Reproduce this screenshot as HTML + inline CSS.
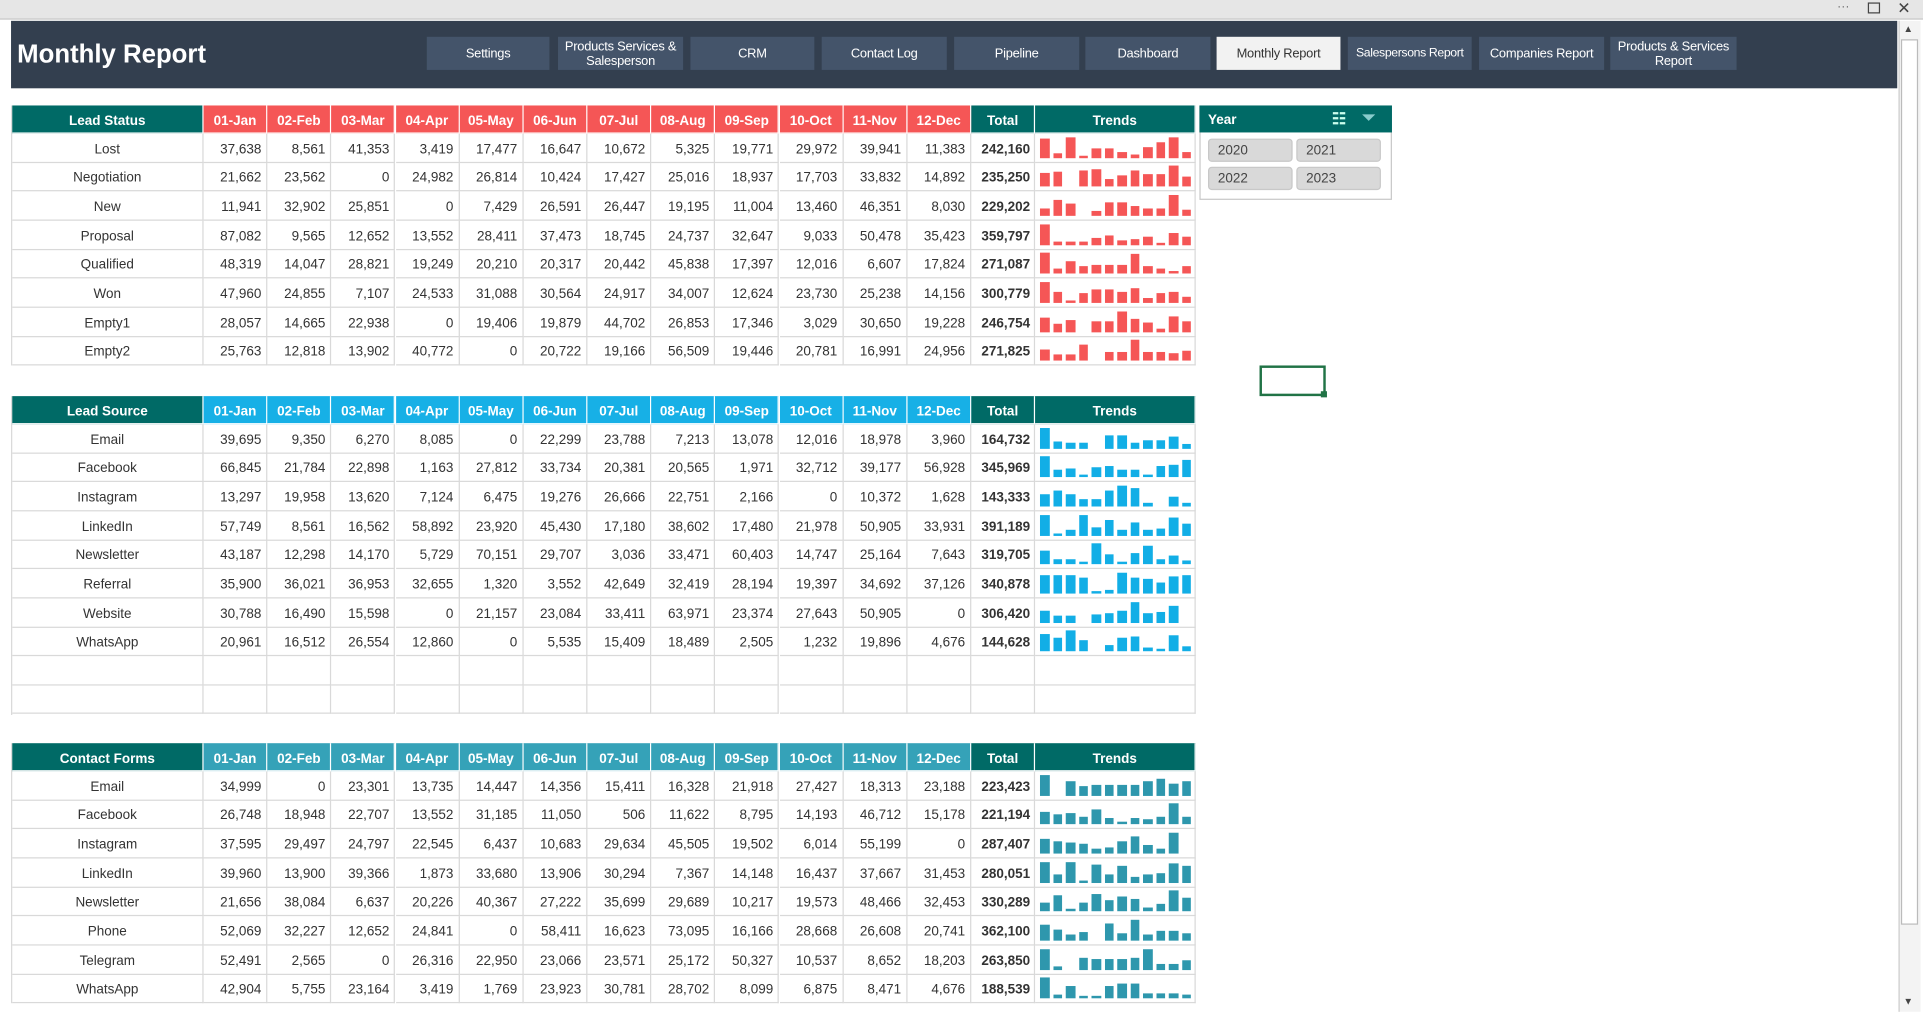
<!DOCTYPE html>
<html><head><meta charset="utf-8">
<style>
html,body{margin:0;padding:0;overflow:hidden;background:#fff;width:1923px;height:1012px}
#root{position:absolute;left:0;top:0;width:1568px;height:826px;transform:scale(1.22640);transform-origin:0 0;font-family:"Liberation Sans",sans-serif;background:#fff}
.abs{position:absolute;box-sizing:border-box}
.btn{position:absolute;top:30px;height:27px;background:#44546a;color:#fff;font-size:10.5px;display:flex;align-items:center;justify-content:center;text-align:center;line-height:12px;white-space:nowrap;letter-spacing:-0.2px}
.cell{position:absolute;box-sizing:border-box;font-size:11px;display:flex;align-items:center;border-right:1px solid #d9d9d9;border-bottom:1px solid #d9d9d9;color:#333;padding-top:3px}
.h{color:#fff;font-weight:bold;justify-content:center;border-color:#fff}
.yb{position:absolute;width:69px;height:19px;background:#d9d9d9;border:1px solid #c8c8c8;border-radius:3px;font-size:11px;color:#444;display:flex;align-items:center;padding-left:7px;box-sizing:border-box}
</style></head><body><div id="root">
<div class="abs" style="left:0;top:0;width:1568px;height:16px;background:#e6e6e6;border-bottom:1px solid #c8c8c8"></div>
<div class="abs" style="left:1498px;top:0;font-size:10px;color:#666">···</div>
<div class="abs" style="left:1523px;top:2px;width:10px;height:9px;border:1px solid #444"></div>
<div class="abs" style="left:1547px;top:-1px;font-size:13px;color:#444">✕</div>
<div class="abs" style="left:9px;top:17px;width:1538px;height:55px;background:#333f4f"></div>
<div class="abs" style="left:14px;top:33px;color:#fff;font-weight:bold;font-size:21px">Monthly Report</div>
<div class="btn" style="left:348px;width:100px">Settings</div>
<div class="btn" style="left:455px;width:102px">Products Services &amp;<br>Salesperson</div>
<div class="btn" style="left:563px;width:101px">CRM</div>
<div class="btn" style="left:670px;width:102px">Contact Log</div>
<div class="btn" style="left:778px;width:102px">Pipeline</div>
<div class="btn" style="left:885px;width:102px">Dashboard</div>
<div class="btn" style="left:992px;width:101px;background:#f2f2f2;color:#333">Monthly Report</div>
<div class="btn" style="left:1099px;width:101px;font-size:10px;letter-spacing:-0.3px">Salespersons Report</div>
<div class="btn" style="left:1206px;width:102px">Companies Report</div>
<div class="btn" style="left:1313px;width:103px">Products &amp; Services<br>Report</div>
<div class="abs" style="left:1548px;top:17px;width:18px;height:808px;background:#f3f3f3;border-left:1px solid #ccc"></div>
<div class="abs" style="left:1552px;top:19px;font-size:8px;color:#444">▲</div>
<div class="abs" style="left:1552px;top:812px;font-size:8px;color:#444">▼</div>
<div class="abs" style="left:1550px;top:32px;width:14px;height:722px;background:#fff;border:1px solid #bbb"></div>
<div class="abs" style="left:978px;top:86px;width:157px;height:77px;border:1px solid #c8c8c8;background:#fff"></div>
<div class="abs" style="left:978px;top:86px;width:157px;height:22px;background:#006a66;color:#fff;font-weight:bold;font-size:11px;padding:6px 7px">Year<span style="position:absolute;left:108px;top:3px;font-size:13px;color:#cfe">☷</span><span style="position:absolute;left:133px;top:2px;font-size:13px;color:#8cc">⏷</span></div>
<div class="yb" style="left:985px;top:113px">2020</div>
<div class="yb" style="left:1057px;top:113px">2021</div>
<div class="yb" style="left:985px;top:136px">2022</div>
<div class="yb" style="left:1057px;top:136px">2023</div>
<div class="abs" style="left:1027px;top:298px;width:54px;height:25px;border:2px solid #217346"></div>
<div class="abs" style="left:1077px;top:319px;width:5px;height:5px;background:#217346"></div>
<div id="t"></div>
</div>
<script>
const months=["01-Jan","02-Feb","03-Mar","04-Apr","05-May","06-Jun","07-Jul","08-Aug","09-Sep","10-Oct","11-Nov","12-Dec"];
const T=[
{top:86,title:"Lead Status",mc:"#f55656",sc:"#f55656",extra:0,rows:[
["Lost",[37638,8561,41353,3419,17477,16647,10672,5325,19771,29972,39941,11383],"242,160"],
["Negotiation",[21662,23562,0,24982,26814,10424,17427,25016,18937,17703,33832,14892],"235,250"],
["New",[11941,32902,25851,0,7429,26591,26447,19195,11004,13460,46351,8030],"229,202"],
["Proposal",[87082,9565,12652,13552,28411,37473,18745,24737,32647,9033,50478,35423],"359,797"],
["Qualified",[48319,14047,28821,19249,20210,20317,20442,45838,17397,12016,6607,17824],"271,087"],
["Won",[47960,24855,7107,24533,31088,30564,24917,34007,12624,23730,25238,14156],"300,779"],
["Empty1",[28057,14665,22938,0,19406,19879,44702,26853,17346,3029,30650,19228],"246,754"],
["Empty2",[25763,12818,13902,40772,0,20722,19166,56509,19446,20781,16991,24956],"271,825"]]},
{top:323,title:"Lead Source",mc:"#17b0e6",sc:"#12aee6",extra:2,rows:[
["Email",[39695,9350,6270,8085,0,22299,23788,7213,13078,12016,18978,3960],"164,732"],
["Facebook",[66845,21784,22898,1163,27812,33734,20381,20565,1971,32712,39177,56928],"345,969"],
["Instagram",[13297,19958,13620,7124,6475,19276,26666,22751,2166,0,10372,1628],"143,333"],
["LinkedIn",[57749,8561,16562,58892,23920,45430,17180,38602,17480,21978,50905,33931],"391,189"],
["Newsletter",[43187,12298,14170,5729,70151,29707,3036,33471,60403,14747,25164,7643],"319,705"],
["Referral",[35900,36021,36953,32655,1320,3552,42649,32419,28194,19397,34692,37126],"340,878"],
["Website",[30788,16490,15598,0,21157,23084,33411,63971,23374,27643,50905,0],"306,420"],
["WhatsApp",[20961,16512,26554,12860,0,5535,15409,18489,2505,1232,19896,4676],"144,628"]]},
{top:606,title:"Contact Forms",mc:"#35a2b8",sc:"#2e97ad",extra:0,rows:[
["Email",[34999,0,23301,13735,14447,14356,15411,16328,21918,27427,18313,23188],"223,423"],
["Facebook",[26748,18948,22707,13552,31185,11050,506,11622,8795,14193,46712,15178],"221,194"],
["Instagram",[37595,29497,24797,22545,6437,10683,29634,45505,19502,6014,55199,0],"287,407"],
["LinkedIn",[39960,13900,39366,1873,33680,13906,30294,7367,14148,16437,37667,31453],"280,051"],
["Newsletter",[21656,38084,6637,20226,40367,27222,35699,29689,10217,19573,48466,32453],"330,289"],
["Phone",[52069,32227,12652,24841,0,58411,16623,73095,16166,28668,26608,20741],"362,100"],
["Telegram",[52491,2565,0,26316,22950,23066,23571,25172,50327,10537,8652,18203],"263,850"],
["WhatsApp",[42904,5755,23164,3419,1769,23923,30781,28702,8099,6875,8471,4676],"188,539"]]}];
const teal="#006a66";const RH=23.65;const mw=(792-166)/12;
let h="";
function cell(x,y,w,hh,txt,st,cls){h+=`<div class="cell${cls?' h':''}" style="left:${x}px;top:${y}px;width:${w}px;height:${hh}px;${st}">${txt}</div>`;}
T.forEach(t=>{
 const y=t.top,HH=23;
 h+=`<div class="abs" style="left:9px;top:${y}px;width:1px;height:${HH+RH*(t.rows.length+t.extra)}px;background:#d9d9d9"></div>`;
 cell(10,y,156,HH,t.title,`background:${teal};`,1);
 months.forEach((m,i)=>cell(166+i*mw,y,mw,HH,m,`background:${t.mc};`,1));
 cell(792,y,52,HH,"Total",`background:${teal};`,1);
 cell(844,y,131,HH,"Trends",`background:${teal};`,1);
 const n=t.rows.length+t.extra;
 for(let r=0;r<n;r++){
  const ry=y+HH+r*RH;const row=t.rows[r];
  cell(10,ry,156,RH,row?row[0]:"","justify-content:center;");
  for(let i=0;i<12;i++)cell(166+i*mw,ry,mw,RH,row?row[1][i].toLocaleString("en-US"):"","justify-content:flex-end;padding-right:4px;");
  cell(792,ry,52,RH,row?row[2]:"","justify-content:flex-end;padding-right:3px;font-weight:bold;");
  cell(844,ry,131,RH,"","");
  if(row){const v=row[1],mx=Math.max(...v),mn=Math.min(...v);
   v.forEach((val,i)=>{if(val===0)return;const bh=2+(val-mn)/(mx-mn)*15;
    h+=`<div class="abs" style="left:${848+i*10.5}px;top:${ry+RH-4-bh}px;width:7.5px;height:${bh}px;background:${t.sc}"></div>`;});}
 }
});
document.getElementById("t").innerHTML=h;
</script>
</body></html>
